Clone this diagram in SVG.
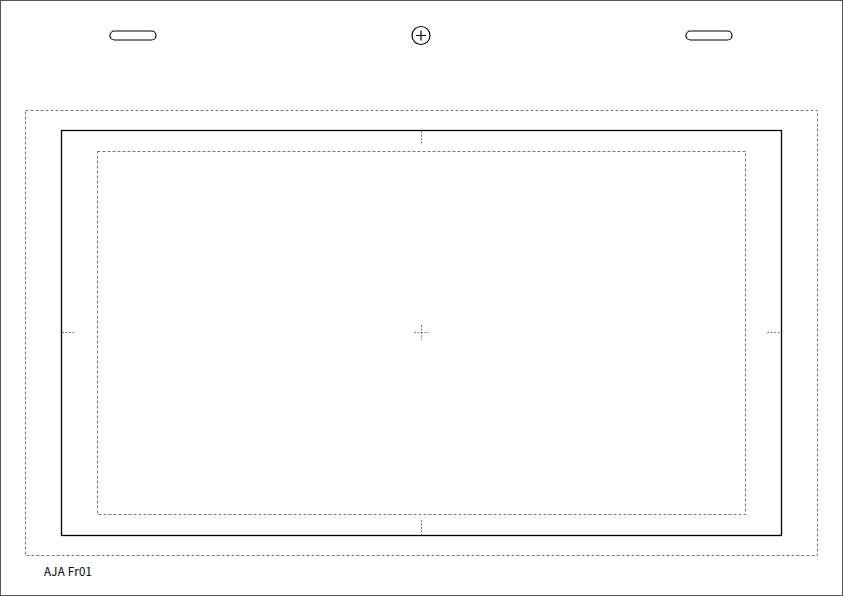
<svg xmlns="http://www.w3.org/2000/svg" width="843" height="596" viewBox="0 0 843 596">
<style>
.dash{fill:none;stroke:#555;stroke-width:0.8;stroke-dasharray:3 2}
.solid{fill:none;stroke:#000;stroke-width:1.3}
.tick{fill:none;stroke:#555;stroke-width:0.8;stroke-dasharray:2 1.5}
.hole{fill:none;stroke:#000;stroke-width:1.2}
</style>
<rect x="0" y="0" width="843" height="596" fill="#fff"/>
<rect x="0.5" y="0.5" width="842" height="595" fill="none" stroke="#555" stroke-width="1"/>
<g id="holes">
<rect class="hole" x="110" y="31" width="46" height="9" rx="4.5"/>
<rect class="hole" x="686" y="31" width="46" height="9" rx="4.5"/>
<circle class="hole" cx="421" cy="35.5" r="9"/>
<path class="hole" d="M416 35.5H426M421 30.5V40.5" stroke-width="1"/>
</g>
<g id="frames">
<rect class="dash" x="25.5" y="110.5" width="792" height="445"/>
<rect class="solid" x="61.5" y="130.5" width="720" height="405"/>
<rect class="dash" x="97.5" y="151.5" width="648" height="363"/>
</g>
<g id="ticks">
<path class="tick" d="M421.5 131V144M421.5 520V535M62 332.5H75M767 332.5H781M414 332.5H429M421.5 325V340"/>
</g>
<text x="44" y="576" font-family="'Noto Sans CJK JP', 'DejaVu Sans Condensed', sans-serif" font-size="11.5" textLength="48" lengthAdjust="spacing" fill="#000">AJA Fr01</text>
</svg>
